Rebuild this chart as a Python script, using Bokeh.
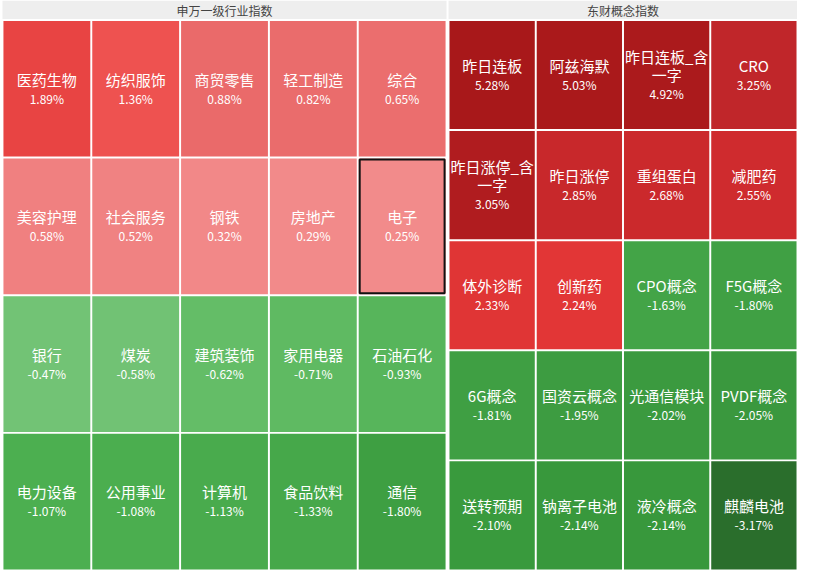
from bokeh.plotting import figure
from bokeh.models import Range1d, ColumnDataSource
from bokeh.core.properties import value
from bokeh.embed import file_html
from bokeh.resources import INLINE

# ---------------- data ----------------
sw_title = "申万一级行业指数"
sw_names = ["医药生物", "纺织服饰", "商贸零售", "轻工制造", "综合",
            "美容护理", "社会服务", "钢铁", "房地产", "电子",
            "银行", "煤炭", "建筑装饰", "家用电器", "石油石化",
            "电力设备", "公用事业", "计算机", "食品饮料", "通信"]
sw_values = [1.89, 1.36, 0.88, 0.82, 0.65,
             0.58, 0.52, 0.32, 0.29, 0.25,
             -0.47, -0.58, -0.62, -0.71, -0.93,
             -1.07, -1.08, -1.13, -1.33, -1.80]

dc_title = "东财概念指数"
dc_names = ["昨日连板", "阿兹海默", "昨日连板_含\n一字", "CRO",
            "昨日涨停_含\n一字", "昨日涨停", "重组蛋白", "减肥药",
            "体外诊断", "创新药", "CPO概念", "F5G概念",
            "6G概念", "国资云概念", "光通信模块", "PVDF概念",
            "送转预期", "钠离子电池", "液冷概念", "麒麟电池"]
dc_values = [5.28, 5.03, 4.92, 3.25,
             3.05, 2.85, 2.68, 2.55,
             2.33, 2.24, -1.63, -1.80,
             -1.81, -1.95, -2.02, -2.05,
             -2.10, -2.14, -2.14, -3.17]

# ---------------- styles ----------------
sw_colors = ["#e84443", "#ee5250", "#ea6a6a", "#ea6c6c", "#eb6e6e",
             "#f08080", "#f08282", "#f28888", "#f28a8a", "#f28b8b",
             "#72c375", "#71c274", "#64bd67", "#5fba62", "#57b55b",
             "#4caf50", "#4bae4f", "#49ab4d", "#46a84a", "#3e9f42"]
dc_colors = ["#a8181a", "#aa191b", "#ab1a1c", "#c0262a",
             "#b01c1f", "#c8282b", "#cb292c", "#cf2b2e",
             "#e03535", "#e23636", "#43a447", "#40a044",
             "#3f9f43", "#3d9c41", "#3b9a3f", "#3a983e",
             "#399a3d", "#38983c", "#38983c", "#2a6e2c"]

W, H = 813, 586
TITLE_H = 20
FONT = "Noto Sans CJK SC"

p = figure(width=797, height=570, output_backend="svg", toolbar_location=None,
           x_range=Range1d(0, W), y_range=Range1d(H, 0),
           min_border=0, background_fill_color="white", border_fill_color="white")
p.axis.visible = False
p.grid.visible = False
p.outline_line_color = None


def panel(names, values, colors, title, x0, x1, ncols, nrows, highlight=None):
    # title bar
    p.quad(left=[x0], right=[x1], top=[0], bottom=[TITLE_H - 1],
           fill_color="#eeeeee", line_color=None)
    p.text(x=[(x0 + x1) / 2], y=[TITLE_H / 2], text=[title],
           text_font=value(FONT), text_font_size="12px", text_color="#444444",
           text_align="center", text_baseline="middle")
    cw = (x1 - x0) / ncols
    rh = (H - TITLE_H) / nrows
    L, R, T, B, C = [], [], [], [], []
    tx, ty, tt = [], [], []
    px, py, pt = [], [], []
    for i, (n, v, c) in enumerate(zip(names, values, colors)):
        r, k = divmod(i, ncols)
        l = x0 + k * cw
        t = TITLE_H + r * rh
        L.append(l + 1); R.append(l + cw - 1)
        T.append(t + 1); B.append(t + rh - 1)
        C.append(c)
        cx = l + cw / 2
        cy = t + rh / 2
        lines = n.split("\n")
        gh = len(lines) * 18 + 20
        top = cy - gh / 2
        for j, ln in enumerate(lines):
            tx.append(cx); ty.append(top + 9 + j * 18); tt.append(ln)
        px.append(cx); py.append(top + len(lines) * 18 + 10.5)
        pt.append(f"{v:.2f}%")
    p.quad(source=ColumnDataSource(dict(left=L, right=R, top=T, bottom=B, color=C)),
           left="left", right="right", top="top", bottom="bottom",
           fill_color="color", line_color=None)
    if highlight is not None:
        i = names.index(highlight)
        p.quad(left=[L[i] + 1], right=[R[i] - 1], top=[T[i] + 1], bottom=[B[i] - 1],
               fill_color=None, line_color="#111111", line_width=2)
    p.text(x=tx, y=ty, text=tt, text_font=value(FONT), text_font_size="15px",
           text_color="white", text_align="center", text_baseline="middle")
    p.text(x=px, y=py, text=pt, text_font=value(FONT), text_font_size="12px",
           text_color="white", text_align="center", text_baseline="middle")


panel(sw_names, sw_values, sw_colors, sw_title, 2, 455, 5, 4, highlight="电子")
panel(dc_names, dc_values, dc_colors, dc_title, 457, 813, 4, 5)

open("out.html", "w").write(file_html(p, INLINE))
